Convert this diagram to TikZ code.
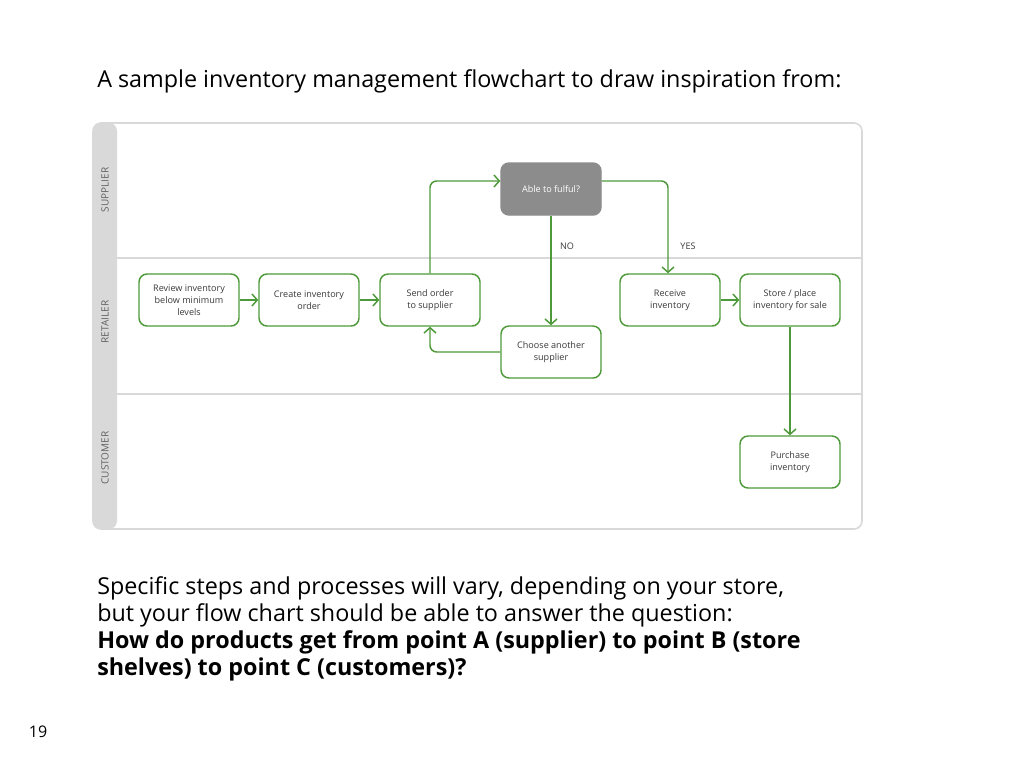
\documentclass[tikz,border=0pt]{standalone}
\usepackage{fontspec}
\setmainfont{Open Sans}
\usetikzlibrary{arrows.meta, positioning}
\definecolor{flowgreen}{HTML}{4E9A3A}
\definecolor{lanegray}{HTML}{D9D9D9}
\definecolor{boxgray}{HTML}{8C8C8C}
\definecolor{txtgray}{HTML}{3A3A3A}

\begin{document}
\begin{tikzpicture}[x=0.75pt, y=-0.75pt,
      proc/.style={draw=flowgreen, line width=1.1pt, fill=white,
                    rounded corners=6pt, font=\fontsize{6.8}{8.8}\selectfont,
                    text=txtgray, align=center,
                    minimum width=75pt, minimum height=39pt},
      decide/.style={proc, draw=boxgray, fill=boxgray, text=white},
      lane/.style={font=\fontsize{7.5}{9}\selectfont, text=txtgray!80, rotate=90},
      tag/.style={font=\fontsize{6.8}{8}\selectfont, text=txtgray},
      arr/.style={-{Straight Barb[length=4pt, width=9pt]}, line width=1.1pt,
                  flowgreen, rounded corners=5pt}
    ]
      \useasboundingbox (0,0) rectangle (1024,768);

      % title and notes
      \node[anchor=west, font=\fontsize{17.5}{20}\selectfont, text=black, inner sep=0pt] (title) at (97,81)
        {A sample inventory management flowchart to draw inspiration from:};
      \node[anchor=north west, align=left, font=\fontsize{17.5}{20.3}\selectfont, text=black, inner sep=0pt]
        (note) at (97,576)
        {Specific steps and processes will vary, depending on your store,\\
         but your flow chart should be able to answer the question:\\
         \textbf{How do products get from point A (supplier) to point B (store}\\
         \textbf{shelves) to point C (customers)?}};
      \node[font=\fontsize{12}{14}\selectfont] (page) at (38,732) {19};

      % panel and lanes
      \draw[lanegray, line width=1.2pt, fill=white, rounded corners=6pt] (93,123) rectangle (862,529);
      \fill[lanegray, rounded corners=6pt] (93,123) rectangle (117,529);
      \draw[lanegray, line width=1.2pt] (117,258) -- (862,258);
      \draw[lanegray, line width=1.2pt] (117,394) -- (862,394);
      \node[lane] (supplier) at (105,190) {SUPPLIER};
      \node[lane] (retailer) at (105,322) {RETAILER};
      \node[lane] (customer) at (105,458) {CUSTOMER};

      % steps
      \node[proc] (review) at (189,300) {Review inventory\\below minimum\\levels};
      \node[proc] (create) at (309,300) {Create inventory\\order};
      \node[proc] (send) at (430,300) {Send order\\to supplier};
      \node[decide] (able) at (551,189) {Able to fulful?};
      \node[proc] (choose) at (551,352) {Choose another\\supplier};
      \node[proc] (receive) at (670,300) {Receive\\inventory};
      \node[proc] (store) at (790,300) {Store / place\\inventory for sale};
      \node[proc] (purchase) at (790,462) {Purchase\\inventory};

      \coordinate (c1) at (430,181);
      \coordinate (c2) at (668,181);
      \coordinate (c3) at (430,352);

      % connectors
      \draw[arr] (review) -- (create);
      \draw[arr] (create) -- (send);
      \draw[arr] (send.north) -- (c1) -- (able.west |- c1);
      \draw[arr] (able.east |- c2) -- (c2) -- (receive.north -| c2);
      \draw[arr] (able) -- (choose);
      \draw[arr] (choose.west) -- (c3) -- (send.south);
      \draw[arr] (receive) -- (store);
      \draw[arr] (store) -- (purchase);

      \node[tag] (no) at (567,246) {NO};
      \node[tag] (yes) at (688,246) {YES};
    \end{tikzpicture}
\end{document}
